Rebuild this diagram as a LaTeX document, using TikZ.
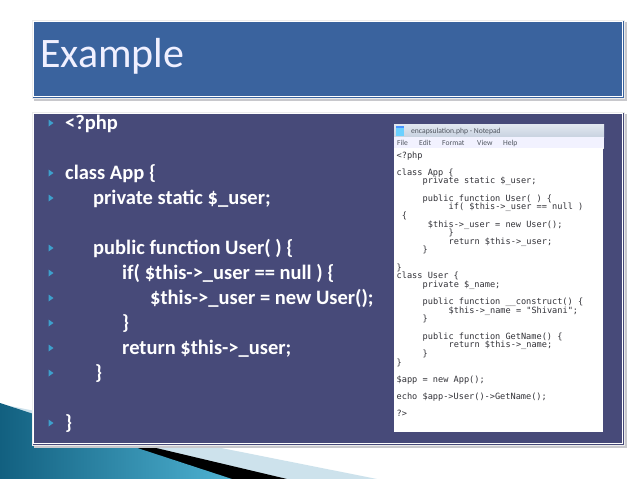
\documentclass[tikz,border=0pt]{standalone}
\usepackage{fontspec}
\setmainfont{Carlito}
\newfontfamily\codefont{DejaVu Sans Mono}
\usetikzlibrary{calc}
\definecolor{titleblue}{RGB}{58,99,158}
\definecolor{panelc}{RGB}{71,74,121}
\definecolor{bulletc}{RGB}{62,160,204}
\definecolor{tealdark}{RGB}{18,96,128}
\definecolor{teallight}{RGB}{78,178,210}
\definecolor{stripeblue}{RGB}{205,226,236}
\definecolor{shadowc}{RGB}{200,200,204}
\definecolor{codegray}{RGB}{50,50,56}
\definecolor{uigray}{RGB}{80,86,96}
\definecolor{tbtop}{RGB}{226,232,240}
\definecolor{tbbot}{RGB}{200,210,224}
\begin{document}
\begin{tikzpicture}[x=1pt,y=-1pt,
  slidebox/.style={draw=white!85!gray, line width=0.6pt, minimum width=592pt, inner sep=0pt},
  mainline/.style={anchor=base west, inner sep=0pt, text=white, font=\bfseries\fontsize{20.5}{24}\selectfont},
  npcode/.style={anchor=base west, inner sep=0pt, text=codegray, font=\codefont\fontsize{8.6}{8.6}\selectfont},
  uitext/.style={anchor=west, inner sep=0pt, text=uigray, font=\fontsize{7.6}{8}\selectfont}]
\useasboundingbox (0,0) rectangle (638,479);
\fill[white] (0,0) rectangle (638,479);
% bottom-left swoosh
\fill[stripeblue] (0,404) -- (377,479) -- (0,479) -- cycle;
\fill[black] (0,411) -- (287,479) -- (0,479) -- cycle;
\shade[left color=tealdark, right color=teallight] (0,403) -- (232,479) -- (0,479) -- cycle;
% shadows
\fill[shadowc] (34,22) rectangle (627,101);
\fill[shadowc] (34,114) rectangle (627,448);
% title box
\node[slidebox, fill=titleblue, minimum height=78pt] (titlebox) at (328,59) {};
\draw[white, line width=0.8pt] ($(titlebox.north west)+(2,2)$) rectangle ($(titlebox.south east)+(-2,-2)$);
\node[anchor=base west, inner sep=0pt, text=white!94!blue, font=\fontsize{42}{46}\selectfont] (title) at (40,67) {Example};
% content panel
\node[slidebox, fill=panelc, minimum height=333pt] (panel) at (328,278.5) {};
\draw[white, line width=0.8pt] ($(panel.north west)+(2,2)$) rectangle ($(panel.south east)+(-2,-2)$);
% bullets
\foreach \k in {0,2,3,5,6,7,8,9,10,12}
  \fill[bulletc] (48.5,123+25*\k-3.5) -- (53.5,123+25*\k) -- (48.5,123+25*\k+3.5) -- cycle;
% main text
\node[mainline] (m0) at (65,129) {<?php};
\node[mainline] (m1) at (65,179) {class App \{};
\node[mainline] (m2) at (93,204) {private static \$\_user;};
\node[mainline] (m3) at (93,254) {public function User( ) \{};
\node[mainline] (m4) at (122,279) {if( \$this->\_user == null ) \{};
\node[mainline] (m5) at (150,304) {\$this->\_user = new User();};
\node[mainline] (m6) at (122,329) {\}};
\node[mainline] (m7) at (122,354) {return \$this->\_user;};
\node[mainline] (m8) at (95,379) {\}};
\node[mainline] (m9) at (65,429) {\}};
% notepad window
\shade[top color=tbtop, bottom color=tbbot] (394,124) rectangle (604,137);
\fill[white!95!blue] (394,137) rectangle (604,148);
\draw[white!80!gray, line width=0.4pt] (394,148) -- (604,148);
\fill[white] (394,148.2) rectangle (603,432);
\fill[white!70!blue!60!cyan] (396,126) rectangle (404,136);
\fill[white!40!blue!70!cyan] (396,126) rectangle (404,128);
\node[uitext] (nptitle) at (411,131) {encapsulation.php - Notepad};
\node[uitext] (mfile) at (397,143) {File};
\node[uitext] (medit) at (419,143) {Edit};
\node[uitext] (mformat) at (442,143) {Format};
\node[uitext] (mview) at (477,143) {View};
\node[uitext] (mhelp) at (503,143) {Help};
\newcommand\npl[4]{\node[npcode] (#1) at (396.5+#2*5.2, 158+#3*8.63) {#4};}
\npl{c0}{0}{0}{<?php}
\npl{c2}{0}{2}{class App \{}
\npl{c3}{5}{3}{private static \$\_user;}
\npl{c5}{5}{5}{public function User( ) \{}
\npl{c6}{10}{6}{if( \$this->\_user == null )}
\npl{c7}{1}{7}{\{}
\npl{c8}{6}{8}{\$this->\_user = new User();}
\npl{c9}{10}{9}{\}}
\npl{c10}{10}{10}{return \$this->\_user;}
\npl{c11}{5}{11}{\}}
\npl{c13}{0}{13}{\}}
\npl{c14}{0}{14}{class User \{}
\npl{c15}{5}{15}{private \$\_name;}
\npl{c17}{5}{17}{public function \_\_construct() \{}
\npl{c18}{10}{18}{\$this->\_name = "Shivani";}
\npl{c19}{5}{19}{\}}
\npl{c21}{5}{21}{public function GetName() \{}
\npl{c22}{10}{22}{return \$this->\_name;}
\npl{c23}{5}{23}{\}}
\npl{c24}{0}{24}{\}}
\npl{c26}{0}{26}{\$app = new App();}
\npl{c28}{0}{28}{echo \$app->User()->GetName();}
\npl{c30}{0}{30}{?>}
\end{tikzpicture}
\end{document}
